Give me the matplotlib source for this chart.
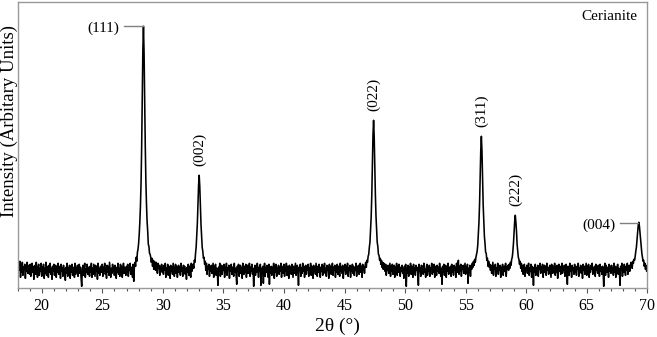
import numpy as np
import matplotlib
matplotlib.use("Agg")
import matplotlib.pyplot as plt

# ---- data: 2θ from 18.00 to 70.00 every 0.05° ----
two_theta_start = 18.0
two_theta_step = 0.05
intensity = [
    22, 14, 25, 18, 27, 11, 23, 16, 26, 13, 21, 19, 24, 10, 22, 17, 26, 15, 20, 23,   # 18
    14, 24, 12, 20, 25, 16, 22, 9, 19, 23, 14, 26, 18, 11, 21, 24, 13, 20, 17, 25,    # 19
    12, 21, 18, 24, 10, 20, 15, 26, 13, 22, 19, 11, 23, 16, 25, 14, 20, 9, 22, 17,    # 20
    24, 13, 19, 23, 11, 21, 16, 25, 14, 18, 22, 10, 24, 17, 20, 12, 23, 15, 19, 8,    # 21
    21, 15, 25, 12, 20, 18, 23, 10, 22, 16, 24, 13, 19, 21, 11, 25, 14, 20, 17, 23,   # 22
    12, 19, 24, 15, 21, 10, 2, 18, 23, 13, 20, 25, 11, 19, 16, 24, 14, 21, 18, 12,    # 23
    22, 16, 25, 11, 20, 14, 24, 18, 12, 23, 17, 21, 9, 25, 15, 20, 13, 22, 19, 16,    # 24
    24, 12, 21, 17, 25, 14, 19, 10, 23, 16, 22, 13, 26, 18, 11, 20, 15, 24, 17, 21,   # 25
    13, 23, 18, 10, 21, 16, 25, 14, 20, 12, 24, 17, 22, 11, 19, 25, 15, 21, 18, 13,   # 26
    22, 16, 24, 12, 20, 18, 25, 14, 21, 19, 11, 24, 7, 22, 26, 22, 31, 27, 36, 39,    # 27
    45, 54, 66, 82, 105, 140, 186, 238, 262, 236, 188, 142, 107, 84, 67, 57, 44, 42, 35, 34,  # 28
    31, 26, 30, 22, 28, 19, 27, 24, 18, 26, 21, 15, 25, 20, 23, 13, 22, 18, 24, 16,   # 29
    21, 14, 23, 18, 25, 11, 20, 16, 24, 13, 22, 19, 10, 23, 17, 21, 14, 25, 18, 12,   # 30
    20, 24, 15, 22, 11, 19, 23, 16, 21, 13, 25, 17, 20, 12, 23, 18, 22, 14, 19, 9,    # 31
    21, 16, 24, 13, 22, 18, 11, 25, 17, 20, 24, 20, 28, 26, 35, 41, 52, 65, 83, 103,  # 32
    113, 102, 84, 64, 53, 41, 37, 30, 31, 24, 27, 18, 25, 14, 22, 19, 24, 12, 21, 17, # 33
    23, 15, 20, 25, 11, 22, 18, 24, 13, 20, 16, 3, 21, 17, 25, 12, 19, 23, 14, 22,    # 34
    18, 24, 11, 21, 16, 25, 13, 20, 19, 23, 10, 22, 17, 24, 14, 21, 18, 12, 25, 16,   # 35
    20, 13, 4, 22, 17, 24, 12, 19, 23, 15, 21, 10, 25, 18, 14, 22, 16, 24, 11, 20,    # 36
    23, 15, 19, 25, 12, 21, 17, 24, 14, 20, 2, 18, 23, 13, 22, 16, 25, 19, 11, 21,    # 37
    17, 24, 3, 20, 14, 22, 5, 19, 25, 12, 21, 16, 23, 18, 11, 24, 4, 20, 15, 22,      # 38
    13, 21, 18, 25, 10, 22, 16, 24, 12, 20, 19, 23, 14, 21, 17, 25, 11, 22, 18, 15,   # 39
    24, 12, 20, 17, 25, 13, 22, 19, 10, 23, 16, 21, 14, 24, 18, 11, 22, 15, 20, 25,   # 40
    13, 19, 23, 16, 3, 21, 18, 24, 12, 20, 15, 25, 17, 22, 11, 19, 23, 14, 21, 18,    # 41
    24, 12, 20, 16, 25, 13, 22, 18, 10, 23, 17, 21, 14, 25, 19, 12, 22, 16, 24, 20,   # 42
    11, 21, 17, 24, 13, 22, 19, 25, 15, 20, 12, 23, 18, 21, 10, 24, 16, 22, 14, 19,   # 43
    25, 13, 21, 18, 23, 11, 20, 16, 24, 14, 22, 19, 12, 25, 17, 21, 15, 23, 10, 20,   # 44
    18, 24, 14, 22, 16, 25, 12, 20, 19, 23, 11, 21, 17, 24, 15, 22, 13, 20, 18, 25,   # 45
    12, 21, 17, 23, 14, 20, 25, 16, 22, 11, 24, 18, 21, 15, 23, 26, 21, 28, 26, 32,   # 46
    34, 41, 46, 58, 71, 92, 121, 153, 168, 152, 122, 93, 72, 58, 46, 42, 34, 33, 28, 30,  # 47
    24, 28, 21, 26, 19, 25, 22, 17, 24, 13, 21, 18, 23, 15, 20, 25, 12, 22, 17, 24,   # 48
    14, 20, 23, 11, 21, 18, 25, 13, 22, 16, 24, 19, 12, 21, 17, 23, 15, 20, 10, 22,   # 49
    18, 24, 2, 20, 15, 23, 12, 21, 17, 25, 14, 22, 19, 11, 24, 16, 20, 13, 23, 18,    # 50
    21, 15, 3, 24, 17, 20, 12, 23, 18, 22, 14, 25, 16, 19, 11, 21, 24, 13, 20, 17,    # 51
    23, 12, 20, 18, 25, 14, 21, 16, 24, 11, 22, 19, 13, 23, 17, 21, 15, 25, 18, 12,   # 52
    20, 4, 22, 16, 24, 13, 19, 23, 11, 21, 17, 25, 14, 20, 18, 22, 12, 24, 16, 21,    # 53
    13, 23, 18, 21, 11, 25, 16, 20, 28, 14, 22, 17, 24, 12, 21, 19, 23, 15, 20, 25,   # 54
    14, 21, 18, 24, 5, 20, 16, 23, 12, 22, 19, 25, 21, 27, 23, 29, 26, 31, 34, 37,    # 55
    43, 54, 66, 84, 110, 138, 152, 137, 111, 83, 67, 52, 45, 36, 35, 28, 30, 22, 27, 21,  # 56
    24, 18, 23, 15, 21, 26, 13, 22, 19, 24, 12, 20, 17, 25, 14, 22, 18, 23, 11, 21,   # 57
    16, 24, 13, 20, 22, 17, 25, 12, 21, 19, 23, 18, 24, 20, 26, 23, 29, 31, 37, 45,   # 58
    56, 67, 73, 66, 57, 44, 38, 31, 29, 24, 27, 20, 25, 17, 23, 14, 21, 24, 12, 20,   # 59
    18, 23, 15, 21, 25, 13, 20, 17, 24, 11, 22, 19, 3, 21, 16, 24, 13, 20, 18, 23,    # 60
    12, 22, 19, 25, 15, 21, 17, 24, 11, 20, 23, 16, 22, 13, 25, 18, 21, 14, 19, 23,   # 61
    17, 11, 24, 20, 15, 22, 18, 25, 13, 21, 16, 23, 10, 20, 24, 17, 22, 14, 19, 25,   # 62
    15, 21, 18, 23, 12, 20, 24, 16, 4, 22, 19, 13, 25, 17, 21, 11, 23, 18, 20, 14,    # 63
    24, 16, 21, 13, 22, 19, 25, 12, 20, 17, 23, 15, 21, 10, 24, 18, 22, 14, 20, 25,   # 64
    13, 22, 18, 24, 11, 21, 16, 23, 19, 25, 14, 20, 17, 22, 12, 24, 18, 21, 15, 23,   # 65
    19, 12, 24, 17, 21, 14, 22, 18, 2, 20, 25, 13, 23, 16, 21, 19, 11, 24, 17, 22,    # 66
    15, 23, 18, 20, 13, 25, 16, 22, 11, 21, 19, 24, 14, 20, 17, 3, 22, 18, 25, 12,    # 67
    21, 16, 24, 19, 13, 22, 18, 25, 14, 20, 23, 17, 21, 26, 24, 20, 27, 25, 29, 28,   # 68
    32, 37, 41, 48, 56, 63, 66, 62, 55, 47, 42, 35, 31, 27, 28, 22, 25, 19, 23, 17,   # 69
    21,                                                                               # 70
]
peak_labels = ["(111)", "(002)", "(022)", "(311)", "(222)", "(004)"]
peak_positions = [28.4, 33.0, 47.4, 56.3, 59.1, 69.3]
phase_name = "Cerianite"
x_label = "2θ (°)"
y_label = "Intensity (Arbitary Units)"

# ---- figure ----
plt.rcParams['font.family'] = ['Liberation Serif', 'DejaVu Serif']
fig = plt.figure(figsize=(6.57, 3.37), dpi=100)
W, H = 657, 337
left, right, top, bottom = 17.5, 647.3, 2.0, 288.3
ax = fig.add_axes([left / W, 1 - bottom / H, (right - left) / W, (bottom - top) / H])

inten = np.array(intensity, dtype=float)
two_theta = two_theta_start + two_theta_step * np.arange(len(inten))
ax.plot(two_theta, inten, color='black', lw=1.15)

ax.set_xlim(18, 70)
ax.set_ylim(0, bottom - top)
ax.set_xticks(np.arange(20, 71, 5))
ax.set_xticks(np.arange(18, 71, 1), minor=True)
ax.set_yticks([])
ax.tick_params(axis='x', which='major', direction='out', length=3.5, width=0.8,
               color='#555555', labelsize=11.5, pad=3.5)
ax.tick_params(axis='x', which='minor', direction='out', length=2.5, width=0.8,
               color='#555555')
for s in ax.spines.values():
    s.set_color('#999999')
    s.set_linewidth(1.0)

def peak_height(pos):
    i = int(round((pos - two_theta_start) / two_theta_step))
    return inten[i]

gray = '#808080'
for lab, pos in zip(peak_labels, peak_positions):
    h = peak_height(pos)
    if lab == "(111)":
        ax.plot([26.8, pos], [h, h], color=gray, lw=1.0)
        ax.text(26.38, h - 2, lab, ha='right', va='center', fontsize=11)
    elif lab == "(004)":
        ax.plot([67.75, pos - 0.05], [h - 1, h - 1], color=gray, lw=1.0)
        ax.text(67.34, h - 3, lab, ha='right', va='center', fontsize=11)
    else:
        ax.text(pos, h + 9, lab, ha='center', va='bottom', rotation=90, fontsize=11)

ax.text(0.985, 0.951, phase_name, transform=ax.transAxes, ha='right', va='center',
        fontsize=11)

fig.text(337.5 / W, 1 - 326 / H, x_label, ha='center', va='center', fontsize=14)
fig.text(9 / W, 1 - 121 / H, y_label, ha='center', va='center', rotation=90,
         fontsize=13.5)

fig.savefig("out.png", dpi=100)
